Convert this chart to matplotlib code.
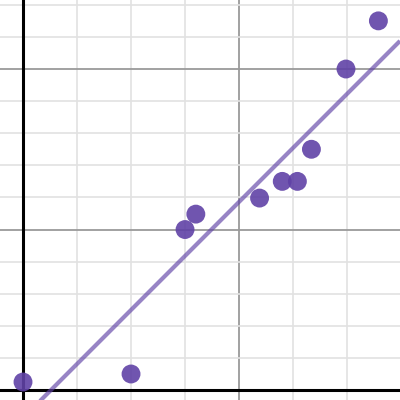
import numpy as np
import matplotlib.pyplot as plt

# data points
x_vals = [0.0, 1.0, 1.5, 1.6, 2.19, 2.4, 2.54, 2.67, 2.99, 3.29]
y_vals = [0.25, 0.5, 5.0, 5.48, 5.98, 6.5, 6.5, 7.5, 10.0, 11.5]

x_min, x_max = -0.213, 3.49
y_min, y_max = -0.31, 12.15

purple = "#6042a6"

fig = plt.figure(figsize=(4, 4), dpi=100)
ax = fig.add_axes([0, 0, 1, 1])
ax.set_xlim(x_min, x_max)
ax.set_ylim(y_min, y_max)
ax.axis("off")

# grid (minor / major), desmos style
for gx in np.arange(-0.5, 4.0, 0.5):
    if abs(gx) < 1e-9:
        continue
    major = abs(gx % 2) < 1e-9
    ax.axvline(gx, color="#9a9a9a" if major else "#e2e2e2",
               lw=1.3 if major else 1.2, zorder=0)
for gy in np.arange(1, 13, 1):
    major = gy % 5 == 0
    ax.axhline(gy, color="#9a9a9a" if major else "#e2e2e2",
               lw=1.3 if major else 1.2, zorder=0)

ax.axvline(0, color="black", lw=2.2, zorder=1)
ax.axhline(0, color="black", lw=2.2, zorder=1)

# linear regression
x = np.array(x_vals)
y = np.array(y_vals)
m, b = np.polyfit(x, y, 1)
xl = np.array([x_min, x_max])
ax.plot(xl, m * xl + b, color=purple, alpha=0.65, lw=3, zorder=2,
        solid_capstyle="butt")

ax.scatter(x, y, s=185, color=purple, alpha=0.9, edgecolors="none", zorder=3)

fig.savefig("out.png", dpi=100)
